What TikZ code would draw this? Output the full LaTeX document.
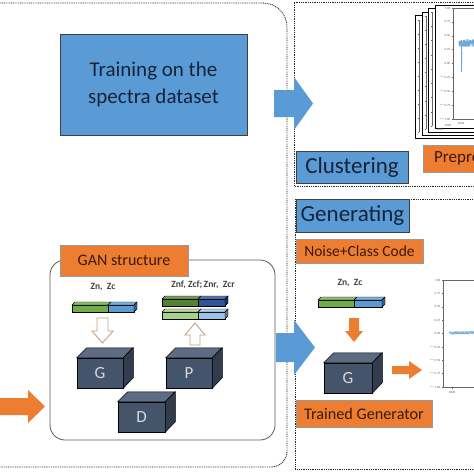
\documentclass[tikz,border=0pt]{standalone}
\usepackage{fontspec}
\setmainfont{Carlito}
\definecolor{cblue}{HTML}{5B9BD5}
\definecolor{corange}{HTML}{ED7D31}
\definecolor{ctxtblue}{HTML}{15233A}
\definecolor{ctxtor}{HTML}{3A1A08}
\definecolor{cfront}{HTML}{44546A}
\definecolor{ctop}{HTML}{5D6C82}
\definecolor{cside}{HTML}{313D4E}
\definecolor{cgreen}{HTML}{70AD47}
\definecolor{cdgreen}{HTML}{548235}
\definecolor{cdblue}{HTML}{2F5597}
\definecolor{clgreen}{HTML}{A9D18E}
\definecolor{clblue}{HTML}{9DC3E6}
\definecolor{ctan}{HTML}{C8A182}
\definecolor{cspec}{HTML}{6FA8D6}
\begin{document}
\begin{tikzpicture}[x=1pt,y=-1pt,
  dotborder/.style={draw=black!85, line width=0.9pt, dash pattern=on 0.9pt off 0.9pt},
  bluebox/.style={draw=black!75, line width=0.6pt, fill=cblue, text=ctxtblue, inner sep=0pt},
  orbox/.style={draw=black!40, line width=0.4pt, fill=corange, text=ctxtor, inner sep=0pt},
  cubefront/.style={draw=black, line width=0.5pt, fill=cfront, text=white!85!black, inner sep=0pt, font=\fontsize{17}{17}\selectfont},
  cubetop/.style={draw=black, line width=0.5pt, fill=ctop},
  cubeside/.style={draw=black, line width=0.5pt, fill=cside},
  blockblue/.style={fill=cblue, draw=none},
  blockor/.style={fill=corange, draw=none},
  hollow/.style={draw=ctan, line width=0.9pt, fill=white},
  zlabel/.style={font=\fontsize{9.5}{9.5}\selectfont\bfseries, text=black!75, inner sep=0pt},
  tickl/.style={font=\fontsize{3.2}{3.2}\selectfont, text=black!60, inner sep=0.5pt},
  frame/.style={draw=black, line width=0.8pt, fill=white},
  axis/.style={draw=black!60, line width=0.4pt},
  spec/.style={draw=cspec, line width=0.9pt, line join=round}
]
\useasboundingbox (0,0) rectangle (474,474);
\clip (0,0) rectangle (474,474);
\fill[white] (0,0) rectangle (474,474);

% ---------- dotted frames ----------
\draw[dotborder] (-5,3) [rounded corners=24] -- (287,3) [rounded corners=16] -- (287,467) [sharp corners] -- (-5,467);
\draw[dotborder] (480,2) -- (294,2) -- (294,186) -- (480,186);
\draw[dotborder] (480,199) -- (295,199) -- (295,469) -- (480,469);

% ---------- training box ----------
\node[bluebox, minimum width=187, minimum height=101, align=center,
      font=\fontsize{21}{27}\selectfont] (train) at (153.5,84.5) {Training on the\\spectra dataset};

% ---------- big blue arrows ----------
\fill[blockblue] (274,90) -- (294,90) -- (294,77) -- (313,103.5) -- (294,130) -- (294,117) -- (274,117) -- cycle;
\fill[blockblue] (276,333) -- (294,333) -- (294,320) -- (315,347.5) -- (294,375) -- (294,362) -- (276,362) -- cycle;

% ---------- clustering part ----------
\node[bluebox, minimum width=112, minimum height=32, font=\fontsize{23}{23}\selectfont] (clust) at (352,167) {Clustering};
\node[orbox, anchor=west, minimum height=27, inner xsep=11pt, font=\fontsize{17}{17}\selectfont] (prep) at (423,158.5) {Preprocessing};

% stacked spectra plots
\draw[frame] (415,15) rectangle (500,138);
\draw[frame] (422,12) rectangle (500,135);
\draw[frame] (428,8) rectangle (500,132);
\draw[frame] (435,5) rectangle (500,128);
% ticks on back frames
\foreach \k/\xa/\ya/\yb in {0/419/20/132, 1/426/16/129, 2/432/12/126}{
  \draw[axis] (\xa,\ya) -- (\xa,\yb);
  \foreach \j in {0,...,8}{
    \draw[axis] (\xa-1.5,{\ya+\j*(\yb-\ya)/8}) -- (\xa,{\ya+\j*(\yb-\ya)/8});
  }
}
\draw[axis] (453,8) rectangle (500,119);
\foreach \v [count=\i from 0] in {1.00,0.75,0.50,0.25,0.00,$-$0.25,$-$0.50,$-$0.75,$-$1.00}{
  \node[tickl, anchor=east] (pa\i) at (451,{8+\i*13.875}) {\v};
  \draw[axis] (451.5,{8+\i*13.875}) -- (453,{8+\i*13.875});
}
\node[tickl] (pax) at (461,123) {4000};
\node[tickl] (pax2) at (448,125.5) {4000};
\node[tickl] (pax3) at (440,129) {4000};
\pgfmathsetseed{7}
\draw[draw=cspec!45, line width=5pt] (459,43) -- (476,44);
\draw[spec] plot[domain=459:476, samples=70] (\x, {43+3.5*rand});
\draw[spec, line width=0.6pt] (461.5,40) -- (461.5,72) -- (462,52);

% ---------- generating part ----------
\node[bluebox, minimum width=113, minimum height=33, font=\fontsize{23}{23}\selectfont] (gen) at (352.5,215.5) {Generating};
\node[orbox, minimum width=127, minimum height=24, font=\fontsize{15.5}{15.5}\selectfont] (noise) at (359.5,251) {Noise+Class Code};
\node[zlabel] (zg) at (350,283) {Zn,\ \ Zc};
% generator bar
\fill[cgreen, draw=black, line width=0.4pt] (318,300) rectangle (354,307);
\fill[cblue, draw=black, line width=0.4pt] (354,300) rectangle (382,307);
\filldraw[fill=cgreen!80!white, draw=black, line width=0.4pt] (318,300) -- (321,297) -- (357,297) -- (354,300) -- cycle;
\filldraw[fill=cblue!80!white, draw=black, line width=0.4pt] (354,300) -- (357,297) -- (385,297) -- (382,300) -- cycle;
\filldraw[fill=cblue!60!black, draw=black, line width=0.4pt] (382,300) -- (385,297) -- (385,304) -- (382,307) -- cycle;
% orange down arrow
\fill[blockor] (349,318) -- (359,318) -- (359,331) -- (363,331) -- (354,342) -- (345,331) -- (349,331) -- cycle;
% trained G cube
\node[cubefront, minimum width=48, minimum height=30] (gtr) at (348,378) {G};
\filldraw[cubetop] (gtr.north west) -- ++(10,-10) -- ++(48,0) -- (gtr.north east) -- cycle;
\filldraw[cubeside] (gtr.north east) -- ++(10,-10) -- ++(0,30) -- (gtr.south east) -- cycle;
% orange right arrow
\fill[blockor] (392,366) -- (409,366) -- (409,361) -- (422,370) -- (409,379) -- (409,374) -- (392,374) -- cycle;
\node[orbox, minimum width=136, minimum height=27, font=\fontsize{16.2}{16.2}\selectfont] (trained) at (364,413.5) {Trained Generator};
% generated spectrum plot
\draw[axis] (443,280) rectangle (500,387);
\foreach \v [count=\i from 0] in {1.00,0.75,0.50,0.25,0.00,$-$0.25,$-$0.50,$-$0.75,$-$1.00}{
  \node[tickl, anchor=east] (pb\i) at (441,{280+\i*13.375}) {\v};
  \draw[axis] (441.5,{280+\i*13.375}) -- (443,{280+\i*13.375});
}
\node[tickl] (pbx) at (452,392) {4000};
\draw[axis] (452,387) -- (452,388.5);
\pgfmathsetseed{11}
\draw[draw=cspec!45, line width=3pt] (449,333) -- (476,332);
\draw[spec, line width=0.6pt] plot[domain=449:476, samples=60] (\x, {333+1.4*rand});

% ---------- left orange arrow ----------
\fill[blockor] (-2,398) -- (28,398) -- (28,390) -- (45,406.5) -- (28,423) -- (28,415) -- (-2,415) -- cycle;

% ---------- GAN structure ----------
\draw[draw=black!65, line width=0.8pt, rounded corners=15] (50,260) rectangle (275,440);
\node[orbox, minimum width=128, minimum height=31, font=\fontsize{16}{16}\selectfont] (ganl) at (124,260.5) {GAN structure};
\node[zlabel] (zl) at (103,287) {Zn,\ \ Zc};
\node[zlabel] (zr) at (203,285) {Znf,\ Zcf;\,Znr,\ \ Zcr};

% left bar
\filldraw[fill=cgreen, draw=black, line width=0.4pt] (72,305) rectangle (108,312);
\filldraw[fill=cblue, draw=black, line width=0.4pt] (108,305) rectangle (134,312);
\filldraw[fill=cgreen!80!white, draw=black, line width=0.4pt] (72,305) -- (75,302) -- (111,302) -- (108,305) -- cycle;
\filldraw[fill=cblue!80!white, draw=black, line width=0.4pt] (108,305) -- (111,302) -- (137,302) -- (134,305) -- cycle;
\filldraw[fill=cblue!60!black, draw=black, line width=0.4pt] (134,305) -- (137,302) -- (137,309) -- (134,312) -- cycle;
% right bars
\filldraw[fill=cdgreen, draw=black, line width=0.4pt] (162,299) rectangle (198,306);
\filldraw[fill=cdblue, draw=black, line width=0.4pt] (198,299) rectangle (225,306);
\filldraw[fill=cdgreen!80!white, draw=black, line width=0.4pt] (162,299) -- (165,296) -- (201,296) -- (198,299) -- cycle;
\filldraw[fill=cdblue!80!white, draw=black, line width=0.4pt] (198,299) -- (201,296) -- (228,296) -- (225,299) -- cycle;
\filldraw[fill=cdblue!60!black, draw=black, line width=0.4pt] (225,299) -- (228,296) -- (228,303) -- (225,306) -- cycle;
\filldraw[fill=clgreen, draw=black, line width=0.4pt] (162,312) rectangle (198,319);
\filldraw[fill=clblue, draw=black, line width=0.4pt] (198,312) rectangle (225,319);
\filldraw[fill=clgreen!80!white, draw=black, line width=0.4pt] (162,312) -- (165,309) -- (201,309) -- (198,312) -- cycle;
\filldraw[fill=clblue!80!white, draw=black, line width=0.4pt] (198,312) -- (201,309) -- (228,309) -- (225,312) -- cycle;
\filldraw[fill=clblue!60!black, draw=black, line width=0.4pt] (225,312) -- (228,309) -- (228,316) -- (225,319) -- cycle;

% hollow arrows
\filldraw[hollow] (97,318) -- (108,318) -- (108,331) -- (113,331) -- (102.5,343) -- (92,331) -- (97,331) -- cycle;
\filldraw[hollow] (190,345) -- (200,345) -- (200,335) -- (205,335) -- (195,323) -- (185,335) -- (190,335) -- cycle;

% cubes
\node[cubefront, minimum width=46, minimum height=30] (g) at (100,373) {G};
\filldraw[cubetop] (g.north west) -- ++(10,-10) -- ++(46,0) -- (g.north east) -- cycle;
\filldraw[cubeside] (g.north east) -- ++(10,-10) -- ++(0,30) -- (g.south east) -- cycle;
\node[cubefront, minimum width=46, minimum height=30] (p) at (189,373) {P};
\filldraw[cubetop] (p.north west) -- ++(10,-10) -- ++(46,0) -- (p.north east) -- cycle;
\filldraw[cubeside] (p.north east) -- ++(10,-10) -- ++(0,30) -- (p.south east) -- cycle;
\node[cubefront, minimum width=47, minimum height=30] (d) at (141.5,417) {D};
\filldraw[cubetop] (d.north west) -- ++(10,-10) -- ++(47,0) -- (d.north east) -- cycle;
\filldraw[cubeside] (d.north east) -- ++(10,-10) -- ++(0,30) -- (d.south east) -- cycle;
\end{tikzpicture}
\end{document}
